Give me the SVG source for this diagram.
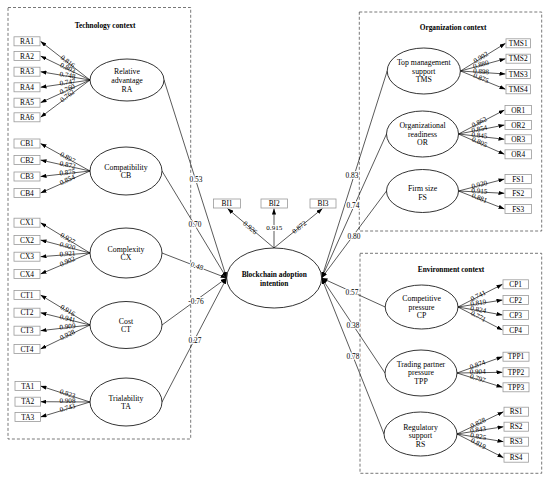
<svg xmlns="http://www.w3.org/2000/svg" width="550" height="480" viewBox="0 0 550 480">
<style>
text{font-family:"Liberation Serif","Times New Roman",serif;fill:#000}
.t{font-size:7.8px;text-anchor:middle;dominant-baseline:central}
.title{font-size:7.4px;font-weight:bold;text-anchor:middle;dominant-baseline:central}
.ct{font-size:7.4px;font-weight:bold;text-anchor:middle;dominant-baseline:central}
.bx{font-size:7.4px;text-anchor:middle;dominant-baseline:central}
.ld{font-size:7.1px;text-anchor:middle;dominant-baseline:central}
.pc{font-size:7.4px;text-anchor:middle;dominant-baseline:central;stroke:#fff;stroke-width:2.2px;paint-order:stroke;stroke-linejoin:round}
.el{fill:#fff;stroke:#000;stroke-width:0.8}
.box{fill:#fff;stroke:#9a9a9a;stroke-width:0.8}
.dash{fill:none;stroke:#555;stroke-width:0.8;stroke-dasharray:3 2}
.ar{fill:none;stroke:#000;stroke-width:0.65;marker-end:url(#ah)}
</style>
<defs>
<marker id="ah" viewBox="0 0 10 7" refX="10" refY="3.5" markerWidth="6" markerHeight="4.2" markerUnits="userSpaceOnUse" orient="auto"><path d="M0,0 L10,3.5 L0,7 z" fill="#000"/></marker>
</defs>
<rect width="550" height="480" fill="#fff"/>

<g id="contexts">
<rect class="dash" x="8" y="7.5" width="182.7" height="431.5"/>
<text class="title" x="105" y="25">Technology context</text>
<rect class="dash" x="359.3" y="12" width="182.4" height="219"/>
<text class="title" x="453" y="27.5">Organization context</text>
<rect class="dash" x="360" y="253.3" width="181.7" height="220"/>
<text class="title" x="451" y="269">Environment context</text>
</g>

<g id="connectors">
<line class="ar" x1="164" y1="80" x2="226.7" y2="278"/>
<line class="ar" x1="162" y1="171" x2="226.7" y2="278"/>
<line class="ar" x1="162" y1="253" x2="226.7" y2="278"/>
<line class="ar" x1="162" y1="325" x2="226.7" y2="278"/>
<line class="ar" x1="162" y1="402" x2="226.7" y2="278"/>
<line class="ar" x1="387.2" y1="71" x2="321.6" y2="278"/>
<line class="ar" x1="386.5" y1="134" x2="321.6" y2="278"/>
<line class="ar" x1="386.5" y1="191" x2="321.6" y2="278"/>
<line class="ar" x1="385.2" y1="307" x2="321.6" y2="278"/>
<line class="ar" x1="385" y1="373" x2="321.6" y2="278"/>
<line class="ar" x1="384" y1="434" x2="321.6" y2="278"/>
<text class="pc" x="196" y="179">0.53</text>
<text class="pc" x="195" y="224">0.70</text>
<text class="pc" x="197" y="266" transform="rotate(20 197 266)">0.48</text>
<text class="pc" x="196" y="301">-0.76</text>
<text class="pc" x="195" y="340">0.27</text>
<text class="pc" x="352" y="175">0.83</text>
<text class="pc" x="353" y="205">0.74</text>
<text class="pc" x="354" y="236">0.80</text>
<text class="pc" x="352" y="292">0.57</text>
<text class="pc" x="353" y="325">0.38</text>
<text class="pc" x="353" y="356">0.78</text>

<line class="ar" x1="274" y1="248" x2="227.5" y2="208.5"/>
<line class="ar" x1="274" y1="248" x2="274" y2="208.5"/>
<line class="ar" x1="274" y1="248" x2="322.5" y2="208.5"/>
<text class="ld" x="250" y="228" transform="rotate(40.4 250 228)">0.926</text>
<text class="pc" style="font-size:7.1px" x="274.3" y="228">0.915</text>
<text class="ld" x="299.5" y="227.5" transform="rotate(-38.7 299.5 227.5)">0.872</text>

<line class="ar" x1="90" y1="80" x2="40.5" y2="41.3"/>
<line class="ar" x1="90" y1="80" x2="40.5" y2="56"/>
<line class="ar" x1="90" y1="80" x2="40.5" y2="71.7"/>
<line class="ar" x1="90" y1="80" x2="40.5" y2="87.3"/>
<line class="ar" x1="90" y1="80" x2="40.5" y2="102.7"/>
<line class="ar" x1="90" y1="80" x2="40.5" y2="117.3"/>
<text class="ld" x="67.5" y="61.8" transform="rotate(37.7 67.5 61.8)">0.816</text>
<text class="ld" x="67.5" y="68.4" transform="rotate(25.6 67.5 68.4)">0.803</text>
<text class="ld" x="67.5" y="75.5" transform="rotate(9.4 67.5 75.5)">0.748</text>
<text class="ld" x="67.5" y="82.5" transform="rotate(-8.3 67.5 82.5)">0.747</text>
<text class="ld" x="67.5" y="89.4" transform="rotate(-24.4 67.5 89.4)">0.760</text>
<text class="ld" x="67.5" y="96" transform="rotate(-36.7 67.5 96)">0.762</text>
<line class="ar" x1="90" y1="171" x2="40.5" y2="143.5"/>
<line class="ar" x1="90" y1="171" x2="40.5" y2="160"/>
<line class="ar" x1="90" y1="171" x2="40.5" y2="176.5"/>
<line class="ar" x1="90" y1="171" x2="40.5" y2="193"/>
<text class="ld" x="67.5" y="157.8" transform="rotate(28.8 67.5 157.8)">0.897</text>
<text class="ld" x="67.5" y="165.2" transform="rotate(12.4 67.5 165.2)">0.872</text>
<text class="ld" x="67.5" y="172.7" transform="rotate(-6.3 67.5 172.7)">0.875</text>
<text class="ld" x="67.5" y="180.1" transform="rotate(-23.7 67.5 180.1)">0.854</text>
<line class="ar" x1="90" y1="253" x2="40.5" y2="222.7"/>
<line class="ar" x1="90" y1="253" x2="40.5" y2="240"/>
<line class="ar" x1="90" y1="253" x2="40.5" y2="256.7"/>
<line class="ar" x1="90" y1="253" x2="40.5" y2="274"/>
<text class="ld" x="67.5" y="238.6" transform="rotate(31.2 67.5 238.6)">0.927</text>
<text class="ld" x="67.5" y="246.3" transform="rotate(14.6 67.5 246.3)">0.920</text>
<text class="ld" x="67.5" y="253.9" transform="rotate(-4.2 67.5 253.9)">0.921</text>
<text class="ld" x="67.5" y="261.7" transform="rotate(-22.8 67.5 261.7)">0.902</text>
<line class="ar" x1="90" y1="325" x2="40.5" y2="295"/>
<line class="ar" x1="90" y1="325" x2="40.5" y2="312.7"/>
<line class="ar" x1="90" y1="325" x2="40.5" y2="330.7"/>
<line class="ar" x1="90" y1="325" x2="40.5" y2="349"/>
<text class="ld" x="67.5" y="310.7" transform="rotate(31 67.5 310.7)">0.916</text>
<text class="ld" x="67.5" y="318.7" transform="rotate(13.8 67.5 318.7)">0.941</text>
<text class="ld" x="67.5" y="326.8" transform="rotate(-6.5 67.5 326.8)">0.909</text>
<text class="ld" x="67.5" y="335" transform="rotate(-25.6 67.5 335)">0.928</text>
<line class="ar" x1="90" y1="402" x2="40.5" y2="386"/>
<line class="ar" x1="90" y1="402" x2="40.5" y2="401.7"/>
<line class="ar" x1="90" y1="402" x2="40.5" y2="417"/>
<text class="ld" x="67.5" y="394" transform="rotate(17.7 67.5 394)">0.823</text>
<text class="ld" x="67.5" y="401.1" transform="rotate(0.3 67.5 401.1)">0.908</text>
<text class="ld" x="67.5" y="408" transform="rotate(-16.7 67.5 408)">0.743</text>

<line class="ar" x1="460.5" y1="71" x2="505.5" y2="43.3"/>
<line class="ar" x1="460.5" y1="71" x2="505.5" y2="58.7"/>
<line class="ar" x1="460.5" y1="71" x2="505.5" y2="74"/>
<line class="ar" x1="460.5" y1="71" x2="505.5" y2="89.3"/>
<text class="ld" x="481" y="57.7" transform="rotate(-31.3 481 57.7)">0.902</text>
<text class="ld" x="481" y="64.7" transform="rotate(-15.1 481 64.7)">0.880</text>
<text class="ld" x="481" y="71.6" transform="rotate(3.8 481 71.6)">0.898</text>
<text class="ld" x="481" y="78.4" transform="rotate(21.9 481 78.4)">0.875</text>
<line class="ar" x1="458.5" y1="134" x2="504.5" y2="110"/>
<line class="ar" x1="458.5" y1="134" x2="504.5" y2="125"/>
<line class="ar" x1="458.5" y1="134" x2="504.5" y2="139.3"/>
<line class="ar" x1="458.5" y1="134" x2="504.5" y2="154.3"/>
<text class="ld" x="479.4" y="122.4" transform="rotate(-27.3 479.4 122.4)">0.862</text>
<text class="ld" x="479.4" y="129.2" transform="rotate(-10.95 479.4 129.2)">0.854</text>
<text class="ld" x="479.4" y="135.6" transform="rotate(6.5 479.4 135.6)">0.845</text>
<text class="ld" x="479.4" y="142.3" transform="rotate(23.6 479.4 142.3)">0.805</text>
<line class="ar" x1="458.5" y1="191" x2="504.5" y2="179"/>
<line class="ar" x1="458.5" y1="191" x2="504.5" y2="193.3"/>
<line class="ar" x1="458.5" y1="191" x2="504.5" y2="209"/>
<text class="ld" x="479.4" y="184.8" transform="rotate(-14.5 479.4 184.8)">0.920</text>
<text class="ld" x="479.4" y="191.2" transform="rotate(2.8 479.4 191.2)">0.915</text>
<text class="ld" x="479.4" y="198.3" transform="rotate(21.2 479.4 198.3)">0.881</text>
<line class="ar" x1="458" y1="307" x2="502.5" y2="284.3"/>
<line class="ar" x1="458" y1="307" x2="502.5" y2="300"/>
<line class="ar" x1="458" y1="307" x2="502.5" y2="315"/>
<line class="ar" x1="458" y1="307" x2="502.5" y2="330"/>
<text class="ld" x="478.3" y="296" transform="rotate(-26.8 478.3 296)">0.741</text>
<text class="ld" x="478.3" y="303.1" transform="rotate(-8.8 478.3 303.1)">0.819</text>
<text class="ld" x="478.3" y="309.8" transform="rotate(10.1 478.3 309.8)">0.824</text>
<text class="ld" x="478.3" y="316.6" transform="rotate(27.1 478.3 316.6)">0.771</text>
<line class="ar" x1="457" y1="373" x2="502.5" y2="356.7"/>
<line class="ar" x1="457" y1="373" x2="502.5" y2="372.3"/>
<line class="ar" x1="457" y1="373" x2="502.5" y2="387.3"/>
<text class="ld" x="477.7" y="364.9" transform="rotate(-19.5 477.7 364.9)">0.874</text>
<text class="ld" x="477.7" y="371.9" transform="rotate(-0.9 477.7 371.9)">0.904</text>
<text class="ld" x="477.7" y="378.6" transform="rotate(17.3 477.7 378.6)">0.797</text>
<line class="ar" x1="457" y1="434" x2="503.5" y2="411.7"/>
<line class="ar" x1="457" y1="434" x2="503.5" y2="426.7"/>
<line class="ar" x1="457" y1="434" x2="503.5" y2="441.7"/>
<line class="ar" x1="457" y1="434" x2="503.5" y2="457.7"/>
<text class="ld" x="478.2" y="423.2" transform="rotate(-25.4 478.2 423.2)">0.828</text>
<text class="ld" x="478.2" y="429.9" transform="rotate(-8.8 478.2 429.9)">0.843</text>
<text class="ld" x="478.2" y="436.7" transform="rotate(9.3 478.2 436.7)">0.825</text>
<text class="ld" x="478.2" y="443.9" transform="rotate(26.8 478.2 443.9)">0.819</text>
</g>

<g id="RA"><ellipse class="el" cx="127" cy="80" rx="37" ry="21"/>
<text class="t" x="127" y="71">Relative</text><text class="t" x="127" y="80">advantage</text><text class="t" x="127" y="89">RA</text></g>
<g id="CB"><ellipse class="el" cx="126" cy="171" rx="36" ry="24"/>
<text class="t" x="126" y="167">Compatibility</text><text class="t" x="126" y="175.5">CB</text></g>
<g id="CX"><ellipse class="el" cx="126" cy="253" rx="36" ry="25"/>
<text class="t" x="126" y="249">Complexity</text><text class="t" x="126" y="257.5">CX</text></g>
<g id="CT"><ellipse class="el" cx="126" cy="325" rx="36" ry="23.5"/>
<text class="t" x="126" y="321">Cost</text><text class="t" x="126" y="329.5">CT</text></g>
<g id="TA"><ellipse class="el" cx="126" cy="402" rx="36" ry="24"/>
<text class="t" x="126" y="398">Trialability</text><text class="t" x="126" y="406.5">TA</text></g>

<g id="BAI"><ellipse class="el" cx="274.2" cy="278" rx="47.5" ry="30"/>
<text class="ct" x="274.2" y="274">Blockchain adoption</text><text class="ct" x="274.2" y="283">intention</text></g>

<g id="TMS"><ellipse class="el" cx="423.8" cy="71" rx="36.6" ry="23"/>
<text class="t" x="423.8" y="62.5">Top management</text><text class="t" x="423.8" y="71">support</text><text class="t" x="423.8" y="79.5">TMS</text></g>
<g id="OR"><ellipse class="el" cx="422.5" cy="134" rx="36" ry="23"/>
<text class="t" x="422.5" y="125.5">Organizational</text><text class="t" x="422.5" y="134">readiness</text><text class="t" x="422.5" y="142.5">OR</text></g>
<g id="FS"><ellipse class="el" cx="422.5" cy="191" rx="36" ry="21.5"/>
<text class="t" x="422.5" y="188.5">Firm size</text><text class="t" x="422.5" y="197">FS</text></g>
<g id="CP"><ellipse class="el" cx="421.6" cy="307" rx="36.4" ry="22"/>
<text class="t" x="421.6" y="298.5">Competitive</text><text class="t" x="421.6" y="307">pressure</text><text class="t" x="421.6" y="315.5">CP</text></g>
<g id="TPP"><ellipse class="el" cx="421" cy="373" rx="36" ry="23"/>
<text class="t" x="421" y="364">Trading partner</text><text class="t" x="421" y="372.5">pressure</text><text class="t" x="421" y="381">TPP</text></g>
<g id="RS"><ellipse class="el" cx="420.5" cy="434" rx="36.5" ry="22"/>
<text class="t" x="420.5" y="427">Regulatory</text><text class="t" x="420.5" y="435.5">support</text><text class="t" x="420.5" y="444">RS</text></g>

<g id="RA1"><rect class="box" x="14" y="36.8" width="26" height="9"/><text class="bx" x="27" y="41.3">RA1</text></g>
<g id="RA2"><rect class="box" x="14" y="51.5" width="26" height="9"/><text class="bx" x="27" y="56">RA2</text></g>
<g id="RA3"><rect class="box" x="14" y="67.2" width="26" height="9"/><text class="bx" x="27" y="71.7">RA3</text></g>
<g id="RA4"><rect class="box" x="14" y="82.8" width="26" height="9"/><text class="bx" x="27" y="87.3">RA4</text></g>
<g id="RA5"><rect class="box" x="14" y="98.2" width="26" height="9"/><text class="bx" x="27" y="102.7">RA5</text></g>
<g id="RA6"><rect class="box" x="14" y="112.8" width="26" height="9"/><text class="bx" x="27" y="117.3">RA6</text></g>
<g id="CB1"><rect class="box" x="14" y="139" width="26" height="9"/><text class="bx" x="27" y="143.5">CB1</text></g>
<g id="CB2"><rect class="box" x="14" y="155.5" width="26" height="9"/><text class="bx" x="27" y="160">CB2</text></g>
<g id="CB3"><rect class="box" x="14" y="172" width="26" height="9"/><text class="bx" x="27" y="176.5">CB3</text></g>
<g id="CB4"><rect class="box" x="14" y="188.5" width="26" height="9"/><text class="bx" x="27" y="193">CB4</text></g>
<g id="CX1"><rect class="box" x="14" y="218.2" width="26" height="9"/><text class="bx" x="27" y="222.7">CX1</text></g>
<g id="CX2"><rect class="box" x="14" y="235.5" width="26" height="9"/><text class="bx" x="27" y="240">CX2</text></g>
<g id="CX3"><rect class="box" x="14" y="252.2" width="26" height="9"/><text class="bx" x="27" y="256.7">CX3</text></g>
<g id="CX4"><rect class="box" x="14" y="269.5" width="26" height="9"/><text class="bx" x="27" y="274">CX4</text></g>
<g id="CT1"><rect class="box" x="14" y="290.5" width="26" height="9"/><text class="bx" x="27" y="295">CT1</text></g>
<g id="CT2"><rect class="box" x="14" y="308.2" width="26" height="9"/><text class="bx" x="27" y="312.7">CT2</text></g>
<g id="CT3"><rect class="box" x="14" y="326.2" width="26" height="9"/><text class="bx" x="27" y="330.7">CT3</text></g>
<g id="CT4"><rect class="box" x="14" y="344.5" width="26" height="9"/><text class="bx" x="27" y="349">CT4</text></g>
<g id="TA1"><rect class="box" x="15" y="381.5" width="25.5" height="9"/><text class="bx" x="27.7" y="386">TA1</text></g>
<g id="TA2"><rect class="box" x="15" y="397.2" width="25.5" height="9"/><text class="bx" x="27.7" y="401.7">TA2</text></g>
<g id="TA3"><rect class="box" x="15" y="412.5" width="25.5" height="9"/><text class="bx" x="27.7" y="417">TA3</text></g>

<g id="BI1"><rect class="box" x="213.5" y="199" width="27" height="9"/><text class="bx" x="227" y="203.5">BI1</text></g>
<g id="BI2"><rect class="box" x="261" y="199" width="26.5" height="9"/><text class="bx" x="274.2" y="203.5">BI2</text></g>
<g id="BI3"><rect class="box" x="310" y="199" width="26" height="9"/><text class="bx" x="323" y="203.5">BI3</text></g>

<g id="TMS1"><rect class="box" x="506" y="38.8" width="24.5" height="9"/><text class="bx" x="518.2" y="43.3">TMS1</text></g>
<g id="TMS2"><rect class="box" x="506" y="54.2" width="24.5" height="9"/><text class="bx" x="518.2" y="58.7">TMS2</text></g>
<g id="TMS3"><rect class="box" x="506" y="69.5" width="24.5" height="9"/><text class="bx" x="518.2" y="74">TMS3</text></g>
<g id="TMS4"><rect class="box" x="506" y="84.8" width="24.5" height="9"/><text class="bx" x="518.2" y="89.3">TMS4</text></g>
<g id="OR1"><rect class="box" x="505" y="105.5" width="26.5" height="9"/><text class="bx" x="518.2" y="110">OR1</text></g>
<g id="OR2"><rect class="box" x="505" y="120.5" width="26.5" height="9"/><text class="bx" x="518.2" y="125">OR2</text></g>
<g id="OR3"><rect class="box" x="505" y="134.8" width="26.5" height="9"/><text class="bx" x="518.2" y="139.3">OR3</text></g>
<g id="OR4"><rect class="box" x="505" y="149.8" width="26.5" height="9"/><text class="bx" x="518.2" y="154.3">OR4</text></g>
<g id="FS1"><rect class="box" x="505" y="174.5" width="26.5" height="9"/><text class="bx" x="518.2" y="179">FS1</text></g>
<g id="FS2"><rect class="box" x="505" y="188.8" width="26.5" height="9"/><text class="bx" x="518.2" y="193.3">FS2</text></g>
<g id="FS3"><rect class="box" x="505" y="204.5" width="26.5" height="9"/><text class="bx" x="518.2" y="209">FS3</text></g>
<g id="CP1"><rect class="box" x="503" y="279.8" width="25.5" height="9"/><text class="bx" x="515.7" y="284.3">CP1</text></g>
<g id="CP2"><rect class="box" x="503" y="295.5" width="25.5" height="9"/><text class="bx" x="515.7" y="300">CP2</text></g>
<g id="CP3"><rect class="box" x="503" y="310.5" width="25.5" height="9"/><text class="bx" x="515.7" y="315">CP3</text></g>
<g id="CP4"><rect class="box" x="503" y="325.5" width="25.5" height="9"/><text class="bx" x="515.7" y="330">CP4</text></g>
<g id="TPP1"><rect class="box" x="503" y="352.2" width="26" height="9"/><text class="bx" x="516" y="356.7">TPP1</text></g>
<g id="TPP2"><rect class="box" x="503" y="367.8" width="26" height="9"/><text class="bx" x="516" y="372.3">TPP2</text></g>
<g id="TPP3"><rect class="box" x="503" y="382.8" width="26" height="9"/><text class="bx" x="516" y="387.3">TPP3</text></g>
<g id="RS1"><rect class="box" x="504" y="407.2" width="24.5" height="9"/><text class="bx" x="516.2" y="411.7">RS1</text></g>
<g id="RS2"><rect class="box" x="504" y="422.2" width="24.5" height="9"/><text class="bx" x="516.2" y="426.7">RS2</text></g>
<g id="RS3"><rect class="box" x="504" y="437.2" width="24.5" height="9"/><text class="bx" x="516.2" y="441.7">RS3</text></g>
<g id="RS4"><rect class="box" x="504" y="453.2" width="24.5" height="9"/><text class="bx" x="516.2" y="457.7">RS4</text></g>
</svg>
